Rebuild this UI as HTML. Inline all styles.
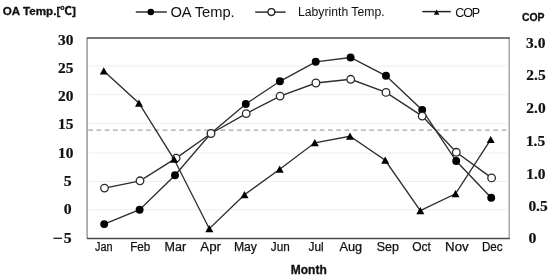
<!DOCTYPE html>
<html lang="en"><head><meta charset="utf-8"><title>OA Temp. / Labyrinth Temp. / COP</title>
<style>
html,body{margin:0;padding:0;background:#fff;}
body{width:550px;height:278px;overflow:hidden;}
svg{display:block;}
.sb{font-family:"Liberation Sans","Noto Sans CJK KR","DejaVu Sans",sans-serif;font-weight:bold;fill:#111;}
.s{font-family:"Liberation Sans","DejaVu Sans",sans-serif;fill:#111;}
.m{stroke:#111;stroke-width:0.25;}
.b{stroke:#111;stroke-width:0.3;}
.n{font-family:"Liberation Serif","DejaVu Serif",serif;font-weight:bold;fill:#111;font-size:14.5px;stroke:#111;stroke-width:0.2;}
</style></head><body>
<svg width="550" height="278" viewBox="0 0 550 278">
<rect x="0" y="0" width="550" height="278" fill="#ffffff"/>
<g stroke="#eeeeee" stroke-width="1">
<line x1="88.5" y1="66.1" x2="506.7" y2="66.1"/>
<line x1="88.5" y1="94.7" x2="506.7" y2="94.7"/>
<line x1="88.5" y1="123.6" x2="506.7" y2="123.6"/>
<line x1="88.5" y1="153.0" x2="506.7" y2="153.0"/>
<line x1="88.5" y1="181.5" x2="506.7" y2="181.5"/>
<line x1="88.5" y1="209.8" x2="506.7" y2="209.8"/>
</g>
<line x1="88.2" y1="130.1" x2="506.4" y2="130.1" stroke="#a4a4a4" stroke-width="1.1" stroke-dasharray="4.8 3.468"/>
<line x1="87.1" y1="38.0" x2="87.1" y2="238.5" stroke="#999" stroke-width="1.5"/>
<line x1="509.2" y1="38.0" x2="509.2" y2="238.5" stroke="#909090" stroke-width="1.2"/>
<line x1="86.9" y1="38.0" x2="509.8" y2="38.0" stroke="#4a4a4a" stroke-width="1.5"/>
<line x1="86.9" y1="238.5" x2="509.8" y2="238.5" stroke="#4a4a4a" stroke-width="1.5"/>
<polyline points="104.2,224.1 139.6,209.7 175.0,175.2 210.8,133.6 245.8,104.0 279.9,81.3 315.7,61.8 350.6,57.5 386.0,75.8 422.2,110.0 456.2,161.0 491.2,197.7" fill="none" stroke="#2e2e2e" stroke-width="1.35"/>
<circle cx="104.2" cy="224.1" r="3.95" fill="#000"/>
<circle cx="139.6" cy="209.7" r="3.95" fill="#000"/>
<circle cx="175.0" cy="175.2" r="3.95" fill="#000"/>
<circle cx="210.8" cy="133.6" r="3.95" fill="#000"/>
<circle cx="245.8" cy="104.0" r="3.95" fill="#000"/>
<circle cx="279.9" cy="81.3" r="3.95" fill="#000"/>
<circle cx="315.7" cy="61.8" r="3.95" fill="#000"/>
<circle cx="350.6" cy="57.5" r="3.95" fill="#000"/>
<circle cx="386.0" cy="75.8" r="3.95" fill="#000"/>
<circle cx="422.2" cy="110.0" r="3.95" fill="#000"/>
<circle cx="456.2" cy="161.0" r="3.95" fill="#000"/>
<circle cx="491.2" cy="197.7" r="3.95" fill="#000"/>
<polyline points="104.5,188.1 140.0,180.8 176.1,158.1 211.0,133.5 246.2,113.6 280.1,96.1 315.9,83.0 350.7,79.3 386.0,92.4 422.2,116.1 456.3,152.3 491.6,177.9" fill="none" stroke="#2e2e2e" stroke-width="1.35"/>
<circle cx="104.5" cy="188.1" r="3.8" fill="#fff" stroke="#2a2a2a" stroke-width="1.3"/>
<circle cx="140.0" cy="180.8" r="3.8" fill="#fff" stroke="#2a2a2a" stroke-width="1.3"/>
<circle cx="176.1" cy="158.1" r="3.8" fill="#fff" stroke="#2a2a2a" stroke-width="1.3"/>
<circle cx="211.0" cy="133.5" r="3.8" fill="#fff" stroke="#2a2a2a" stroke-width="1.3"/>
<circle cx="246.2" cy="113.6" r="3.8" fill="#fff" stroke="#2a2a2a" stroke-width="1.3"/>
<circle cx="280.1" cy="96.1" r="3.8" fill="#fff" stroke="#2a2a2a" stroke-width="1.3"/>
<circle cx="315.9" cy="83.0" r="3.8" fill="#fff" stroke="#2a2a2a" stroke-width="1.3"/>
<circle cx="350.7" cy="79.3" r="3.8" fill="#fff" stroke="#2a2a2a" stroke-width="1.3"/>
<circle cx="386.0" cy="92.4" r="3.8" fill="#fff" stroke="#2a2a2a" stroke-width="1.3"/>
<circle cx="422.2" cy="116.1" r="3.8" fill="#fff" stroke="#2a2a2a" stroke-width="1.3"/>
<circle cx="456.3" cy="152.3" r="3.8" fill="#fff" stroke="#2a2a2a" stroke-width="1.3"/>
<circle cx="491.6" cy="177.9" r="3.8" fill="#fff" stroke="#2a2a2a" stroke-width="1.3"/>
<polyline points="103.8,71.0 139.0,103.2 174.1,159.3 209.3,228.7 244.5,194.7 279.7,169.3 314.8,142.8 350.0,136.3 385.2,160.3 420.3,210.7 455.5,193.8 490.7,139.6" fill="none" stroke="#2e2e2e" stroke-width="1.35"/>
<polygon points="103.8,67.3 107.8,74.5 99.8,74.5" fill="#000"/>
<polygon points="139.0,99.5 143.0,106.7 135.0,106.7" fill="#000"/>
<polygon points="174.1,155.6 178.1,162.8 170.1,162.8" fill="#000"/>
<polygon points="209.3,225.0 213.3,232.2 205.3,232.2" fill="#000"/>
<polygon points="244.5,191.0 248.5,198.2 240.5,198.2" fill="#000"/>
<polygon points="279.7,165.6 283.7,172.8 275.7,172.8" fill="#000"/>
<polygon points="314.8,139.1 318.8,146.3 310.8,146.3" fill="#000"/>
<polygon points="350.0,132.6 354.0,139.8 346.0,139.8" fill="#000"/>
<polygon points="385.2,156.6 389.2,163.8 381.2,163.8" fill="#000"/>
<polygon points="420.3,207.0 424.3,214.2 416.3,214.2" fill="#000"/>
<polygon points="455.5,190.1 459.5,197.3 451.5,197.3" fill="#000"/>
<polygon points="490.7,135.9 494.7,143.1 486.7,143.1" fill="#000"/>
<text class="n" x="58.0" y="44.5" textLength="15.4" lengthAdjust="spacingAndGlyphs">30</text>
<text class="n" x="58.0" y="72.7" textLength="15.4" lengthAdjust="spacingAndGlyphs">25</text>
<text class="n" x="58.0" y="101.2" textLength="15.4" lengthAdjust="spacingAndGlyphs">20</text>
<text class="n" x="58.0" y="129.2" textLength="15.4" lengthAdjust="spacingAndGlyphs">15</text>
<text class="n" x="58.0" y="157.7" textLength="15.4" lengthAdjust="spacingAndGlyphs">10</text>
<text class="n" x="63.8" y="185.7" textLength="7.9" lengthAdjust="spacingAndGlyphs">5</text>
<text class="n" x="63.8" y="214.3" textLength="7.9" lengthAdjust="spacingAndGlyphs">0</text>
<text class="n" x="52.4" y="242.8" textLength="10.2" lengthAdjust="spacingAndGlyphs">−</text>
<text class="n" x="63.8" y="242.8" textLength="7.9" lengthAdjust="spacingAndGlyphs">5</text>
<text class="n" x="526.1" y="47.5" textLength="19.3" lengthAdjust="spacingAndGlyphs">3.0</text>
<text class="n" x="526.3" y="79.9" textLength="19.3" lengthAdjust="spacingAndGlyphs">2.5</text>
<text class="n" x="526.3" y="113.1" textLength="19.3" lengthAdjust="spacingAndGlyphs">2.0</text>
<text class="n" x="525.9" y="145.7" textLength="19.3" lengthAdjust="spacingAndGlyphs">1.5</text>
<text class="n" x="526.2" y="178.5" textLength="19.3" lengthAdjust="spacingAndGlyphs">1.0</text>
<text class="n" x="528.4" y="211.1" textLength="19.3" lengthAdjust="spacingAndGlyphs">0.5</text>
<text class="n" x="528.6" y="243.3" textLength="7.9" lengthAdjust="spacingAndGlyphs">0</text>
<text class="s m" x="95.0" y="250.6" font-size="12" textLength="17.5" lengthAdjust="spacingAndGlyphs">Jan</text>
<text class="s m" x="130.2" y="250.6" font-size="12" textLength="20.1" lengthAdjust="spacingAndGlyphs">Feb</text>
<text class="s m" x="164.5" y="250.6" font-size="12" textLength="21.6" lengthAdjust="spacingAndGlyphs">Mar</text>
<text class="s m" x="200.3" y="250.6" font-size="12" textLength="20.7" lengthAdjust="spacingAndGlyphs">Apr</text>
<text class="s m" x="233.9" y="250.6" font-size="12" textLength="23.0" lengthAdjust="spacingAndGlyphs">May</text>
<text class="s m" x="270.8" y="250.6" font-size="12" textLength="18.9" lengthAdjust="spacingAndGlyphs">Jun</text>
<text class="s m" x="308.6" y="250.6" font-size="12" textLength="15.1" lengthAdjust="spacingAndGlyphs">Jul</text>
<text class="s m" x="339.4" y="250.6" font-size="12" textLength="22.7" lengthAdjust="spacingAndGlyphs">Aug</text>
<text class="s m" x="376.8" y="250.6" font-size="12" textLength="22.1" lengthAdjust="spacingAndGlyphs">Sep</text>
<text class="s m" x="412.3" y="250.6" font-size="12" textLength="18.6" lengthAdjust="spacingAndGlyphs">Oct</text>
<text class="s m" x="445.1" y="250.6" font-size="12" textLength="23.6" lengthAdjust="spacingAndGlyphs">Nov</text>
<text class="s m" x="481.9" y="250.6" font-size="12" textLength="20.7" lengthAdjust="spacingAndGlyphs">Dec</text>
<text class="sb b" x="2.8" y="14.5" font-size="10.8" textLength="73" lengthAdjust="spacingAndGlyphs">OA Temp.[℃]</text>
<text class="sb b" x="521.9" y="20.9" font-size="10.8" textLength="22.6" lengthAdjust="spacingAndGlyphs">COP</text>
<text class="sb b" x="290.8" y="273.7" font-size="12" textLength="35.9" lengthAdjust="spacingAndGlyphs">Month</text>
<line x1="135.8" y1="12" x2="166.8" y2="12" stroke="#222" stroke-width="1.4"/>
<circle cx="150.8" cy="12" r="3.3" fill="#000"/>
<text class="s" x="170.4" y="17" font-size="14" textLength="64.3" lengthAdjust="spacingAndGlyphs">OA Temp.</text>
<line x1="255.2" y1="12.1" x2="285.6" y2="12.1" stroke="#222" stroke-width="1.4"/>
<circle cx="271.4" cy="12.1" r="3.4" fill="#fff" stroke="#222" stroke-width="1.3"/>
<text class="s" x="298.0" y="15.9" font-size="12.3" textLength="86.6" lengthAdjust="spacingAndGlyphs">Labyrinth Temp.</text>
<line x1="422.3" y1="11.6" x2="450.8" y2="11.6" stroke="#222" stroke-width="1.5"/>
<polygon points="436.6,9.4 439.3,14.8 433.9,14.8" fill="#000"/>
<text class="s" x="455.3 463.3 471.8" y="16.9" font-size="12.6">COP</text>
</svg>
</body></html>
